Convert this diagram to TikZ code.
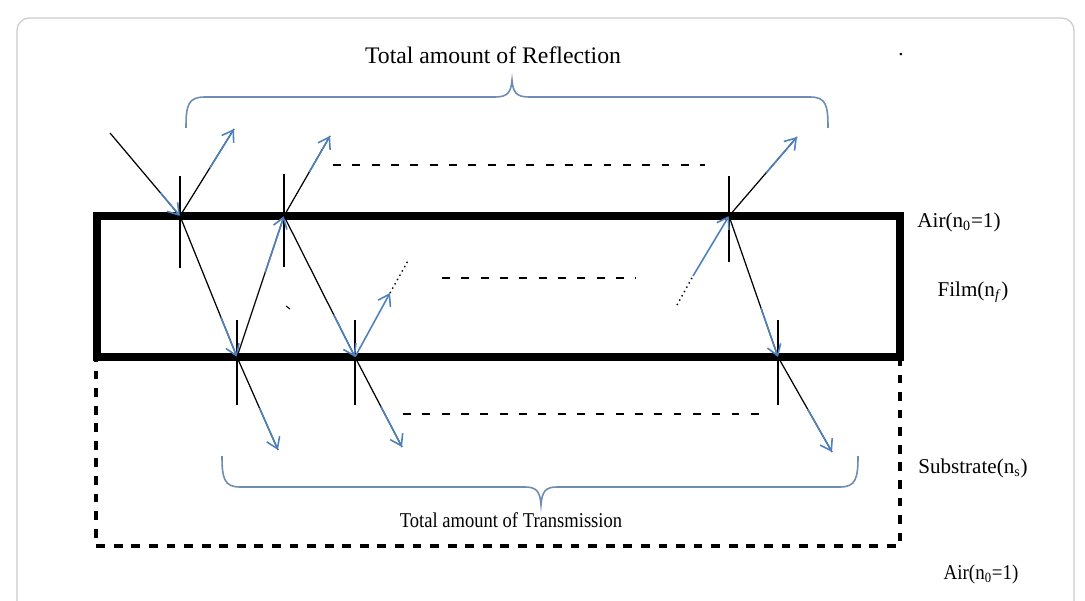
\documentclass[tikz,border=0pt]{standalone}
\usepackage{fontspec}
\setmainfont{Liberation Serif}
\usetikzlibrary{arrows.meta,calc}
\definecolor{rayblue}{RGB}{79,129,189}
\definecolor{bracecol}{RGB}{110,140,180}
\begin{document}
\begin{tikzpicture}[x=0.02cm,y=-0.02cm,
  lbl/.style={font=\fontsize{12}{14}\selectfont, inner sep=0pt},
  ray/.style={line width=0.7pt, black},
  bluetip/.style={line width=0.9pt, rayblue, -{Straight Barb[length=6pt,width=8pt,line width=0.9pt]}},
  normal/.style={line width=0.8pt, black},
  dotray/.style={line width=0.8pt, black, dotted},
  gap/.style={line width=0.9pt, black, dash pattern=on 4.5pt off 6.5pt},
  brace/.style={line width=0.9pt, bracecol},
  film/.style={line width=4pt, black},
  sub/.style={line width=2.8pt, black, dash pattern=on 5pt off 5pt}]
\useasboundingbox (0,0) rectangle (1085,601);
\clip (0,0) rectangle (1085,601);
\fill[white] (0,0) rectangle (1085,601);
\draw[gray!40, line width=0.7pt, rounded corners=7pt] (17,640) -- (17,18) -- (1074,18) -- (1074,640);

% substrate and film
\draw[sub] (900,357) -- (900,546) -- (96,546) -- (96,357);
\draw[film] (97,216) rectangle (900,357);

% interface points
\coordinate (A1) at (180,216);
\coordinate (A2) at (284,216);
\coordinate (A3) at (729,216);
\coordinate (B1) at (237,357);
\coordinate (B2) at (355,357);
\coordinate (B3) at (778,357);
\coordinate (S0) at (110,133);
\coordinate (R1) at (234,129);
\coordinate (R2) at (330,136);
\coordinate (R3) at (797,137);
\coordinate (T1) at (278,450);
\coordinate (T2) at (402,447);
\coordinate (T3) at (832,452);
\coordinate (M1) at (390,293);
\coordinate (M1e) at (409,259);
\coordinate (M3s) at (677,305);
\coordinate (M3) at (693,276);

% normals
\draw[normal] ($(A1)+(0,-40)$) -- ($(A1)+(0,52)$);
\draw[normal] ($(A2)+(0,-42)$) -- ($(A2)+(0,51)$);
\draw[normal] ($(A3)+(0,-40)$) -- ($(A3)+(0,46)$);
\draw[normal] ($(B1)+(0,-37)$) -- ($(B1)+(0,48)$);
\draw[normal] ($(B2)+(0,-37)$) -- ($(B2)+(0,48)$);
\draw[normal] ($(B3)+(0,-37)$) -- ($(B3)+(0,48)$);

% rays
\draw[ray] (S0) -- (A1);
\draw[bluetip] ($(S0)!0.72!(A1)$) -- (A1);
\draw[ray] (A1) -- (R1);
\draw[bluetip] ($(A1)!0.55!(R1)$) -- (R1);
\draw[ray] (A2) -- (R2);
\draw[bluetip] ($(A2)!0.55!(R2)$) -- (R2);
\draw[ray] (A3) -- (R3);
\draw[bluetip] ($(A3)!0.55!(R3)$) -- (R3);

\draw[ray] (A1) -- (B1);
\draw[bluetip] ($(A1)!0.72!(B1)$) -- (B1);
\draw[ray] (B1) -- (A2);
\draw[bluetip] ($(B1)!0.6!(A2)$) -- (A2);
\draw[ray] (A2) -- (B2);
\draw[bluetip] ($(A2)!0.7!(B2)$) -- (B2);
\draw[bluetip] (B2) -- (M1);
\draw[dotray] (M1) -- (M1e);
\draw[dotray] (M3s) -- (M3);
\draw[bluetip] (M3) -- (A3);
\draw[ray] (A3) -- (B3);
\draw[bluetip] ($(A3)!0.65!(B3)$) -- (B3);

\draw[ray] (B1) -- (T1);
\draw[bluetip] ($(B1)!0.55!(T1)$) -- (T1);
\draw[ray] (B2) -- (T2);
\draw[bluetip] ($(B2)!0.55!(T2)$) -- (T2);
\draw[ray] (B3) -- (T3);
\draw[bluetip] ($(B3)!0.55!(T3)$) -- (T3);

% small tick mark
\draw[line width=0.6pt] (286,306) -- (290,309);

% dashed continuation lines
\coordinate (G1a) at (333,165); \coordinate (G1b) at (705,165);
\coordinate (G2a) at (442,278); \coordinate (G2b) at (636,278);
\coordinate (G3a) at (403,414); \coordinate (G3b) at (770,414);
\draw[gap] (G1a) -- (G1b);
\draw[gap] (G2a) -- (G2b);
\draw[gap] (G3a) -- (G3b);

% braces
\draw[brace] (186,128) .. controls (186,105) and (188,97) .. (205,97)
  -- (495,97) .. controls (508,97) and (511,92) .. (512,80)
  .. controls (513,92) and (516,97) .. (529,97)
  -- (810,97) .. controls (826,97) and (828,105) .. (828,128);
\draw[brace] (222,456) .. controls (222,478) and (224,487) .. (240,487)
  -- (525,487) .. controls (537,487) and (540,492) .. (541,505)
  .. controls (542,492) and (545,487) .. (557,487)
  -- (840,487) .. controls (856,487) and (858,478) .. (858,456);

% labels
\node[lbl, font=\fontsize{13.5}{16}\selectfont] (reft) at (493,55) {Total amount of Reflection};
\node[lbl, xscale=0.88] (trant) at (511,520) {Total amount of Transmission};
\node[lbl] (dot) at (901,55) {.};
\node[lbl] (air1) at (959,222) {Air(n\textsubscript{0}=1)};
\node[lbl] (filmt) at (973,292) {Film(n\textsubscript{\textit{f}})};
\node[lbl] (subt) at (973,468) {Substrate(n\textsubscript{s})};
\node[lbl, xscale=0.9] (air2) at (981,574) {Air(n\textsubscript{0}=1)};
\end{tikzpicture}
\end{document}
